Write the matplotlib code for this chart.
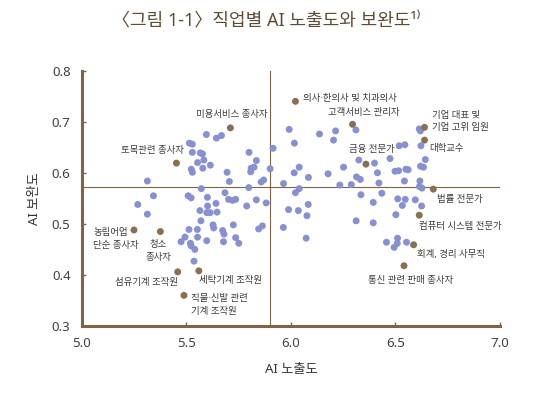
import matplotlib
matplotlib.use('Agg')
import matplotlib.pyplot as plt

plt.rcParams['font.family'] = ['Noto Sans', 'Noto Sans CJK KR', 'DejaVu Sans']

# occupations (blue dots)
exposure = [5.314, 5.268, 5.314, 5.343, 5.509, 5.523, 5.515, 5.529, 5.596, 5.644,
            5.668, 5.529, 5.567, 5.578, 5.584, 5.554, 5.615, 5.579, 5.524, 5.529,
            5.800, 5.835, 5.810, 5.824, 5.808, 5.695, 5.901, 5.858, 5.870, 5.706,
            5.572, 5.601, 5.685, 5.799, 5.702, 5.721, 5.736, 5.835, 5.882, 5.642,
            5.602, 5.789, 5.565, 5.598, 5.614, 5.647, 5.570, 5.628, 5.631, 5.725,
            5.513, 5.553, 5.674, 5.680, 5.846, 5.864, 5.494, 5.475, 5.554, 5.598,
            5.678, 5.736, 5.751, 5.520, 5.523, 5.541, 5.537,
            5.915, 5.992, 6.017, 6.137, 6.214, 6.204, 6.311, 6.614, 6.619, 6.518,
            6.545, 6.622, 6.643, 6.474, 6.325, 6.400, 6.252, 6.040, 6.016, 6.620,
            6.634, 6.414, 6.498, 6.515, 6.550, 6.561, 6.084, 6.178, 6.314, 6.332,
            6.617, 6.543, 5.965, 6.234, 6.289, 6.421, 6.615, 6.627, 6.022, 6.040,
            6.335, 6.435, 6.511, 6.547, 6.595, 6.533, 6.625, 6.394, 6.083, 5.989,
            6.036, 6.077, 6.502, 6.312, 6.394, 5.964, 6.073, 6.457, 6.510, 6.509,
            6.494, 6.553]
complement = [0.584, 0.538, 0.519, 0.555, 0.555, 0.551, 0.658, 0.656, 0.675, 0.668,
              0.673, 0.640, 0.639, 0.637, 0.625, 0.620, 0.615, 0.609, 0.607, 0.601,
              0.640, 0.624, 0.609, 0.611, 0.602, 0.601, 0.608, 0.582, 0.586, 0.583,
              0.569, 0.552, 0.561, 0.571, 0.548, 0.546, 0.548, 0.547, 0.541, 0.540,
              0.535, 0.535, 0.526, 0.522, 0.522, 0.523, 0.506, 0.498, 0.492, 0.498,
              0.489, 0.489, 0.487, 0.480, 0.490, 0.496, 0.474, 0.465, 0.474, 0.467,
              0.465, 0.473, 0.462, 0.462, 0.457, 0.450, 0.427,
              0.648, 0.685, 0.658, 0.676, 0.682, 0.664, 0.684, 0.686, 0.682, 0.653,
              0.655, 0.653, 0.626, 0.628, 0.625, 0.619, 0.611, 0.611, 0.600, 0.613,
              0.611, 0.600, 0.603, 0.604, 0.607, 0.606, 0.591, 0.598, 0.592, 0.587,
              0.584, 0.584, 0.579, 0.576, 0.577, 0.580, 0.573, 0.570, 0.561, 0.569,
              0.557, 0.560, 0.549, 0.548, 0.547, 0.536, 0.535, 0.542, 0.538, 0.528,
              0.526, 0.516, 0.518, 0.506, 0.502, 0.493, 0.472, 0.464, 0.472, 0.462,
              0.454, 0.464]

# highlighted occupations (brown dots)
hl_names = ['의사·한의사 및 치과의사', '고객서비스 관리자', '기업 대표 및\n기업 고위 임원',
            '대학교수', '금융 전문가', '법률 전문가', '컴퓨터 시스템 전문가',
            '회계, 경리 사무직', '통신 관련 판매 종사자', '미용서비스 종사자',
            '토목관련 종사자', '농림어업\n단순 종사자', '청소\n종사자', '섬유기계 조작원',
            '세탁기계 조작원', '직물·신발 관련\n기계 조작원']
hl_x = [6.022, 6.295, 6.639, 6.639, 6.359, 6.681, 6.614, 6.587, 6.541, 5.711,
        5.453, 5.250, 5.376, 5.459, 5.560, 5.489]
hl_y = [0.740, 0.695, 0.689, 0.664, 0.617, 0.568, 0.517, 0.459, 0.418, 0.688,
        0.619, 0.488, 0.485, 0.406, 0.408, 0.360]

avg_exposure = 5.90
avg_complement = 0.572

# label offsets (points) and horizontal alignment
label_pos = [((5.5, 1.7), 'left'), ((8.4, 8.4), 'center'), ((5.3, 4.3), 'left'),
             ((3.6, -6.0), 'left'), ((4.5, 10.6), 'center'), ((2.7, -7.2), 'left'),
             ((0.0, -8.2), 'left'), ((2.4, -6.7), 'left'), ((4.5, -10.6), 'center'),
             ((1.2, 9.9), 'center'), ((-17.1, 8.9), 'center'), ((-29.5, -6.6), 'left'),
             ((-1.7, -14.0), 'center'), ((0.0, -7.7), 'right'), ((0.4, -6.7), 'left'),
             ((5.0, -7.1), 'left')]

brown = '#7d6546'
blue = '#8791d1'
dot = '#8b7050'
txt = '#3a3a3a'

fig = plt.figure(figsize=(5.35, 3.96), dpi=100)
ax = fig.add_axes([0.1527, 0.1768, 0.7819, 0.6447])

ax.axvline(avg_exposure, color=brown, lw=0.8, zorder=1)
ax.axhline(avg_complement, color=brown, lw=0.8, zorder=1)

ax.scatter(exposure, complement, s=25, color=blue, edgecolors='none', zorder=3)
ax.scatter(hl_x, hl_y, s=25, color=dot, edgecolors='none', zorder=4)

for name, x, y, (off, ha) in zip(hl_names, hl_x, hl_y, label_pos):
    ax.annotate(name, (x, y), xytext=off, textcoords='offset points',
                ha=ha, va='center', fontsize=6.8, color=txt, linespacing=1.5,
                multialignment=ha)

ax.set_xlim(5.0, 7.0)
ax.set_ylim(0.3, 0.8)
ax.set_xticks([5.0, 5.5, 6.0, 6.5, 7.0])
ax.set_yticks([0.3, 0.4, 0.5, 0.6, 0.7, 0.8])
ax.set_xticklabels(['5.0', '5.5', '6.0', '6.5', '7.0'])
ax.set_yticklabels(['0.3', '0.4', '0.5', '0.6', '0.7', '0.8'])

for s in ['top', 'right']:
    ax.spines[s].set_visible(False)
for s in ['left', 'bottom']:
    ax.spines[s].set_color(brown)
    ax.spines[s].set_linewidth(2.2)
ax.tick_params(axis='x', direction='in', length=3, width=1, color=brown,
               labelsize=9.5, labelcolor='#404040', pad=8)
ax.tick_params(axis='y', direction='in', length=3, width=1, color=brown,
               labelsize=9.5, labelcolor='#404040', pad=8)

ax.set_xlabel('AI 노출도', fontsize=9.5, color='#333333', labelpad=9)
ax.set_ylabel('AI 보완도', fontsize=9.5, color='#333333', labelpad=8)

fig.text(0.497, 0.945, '〈그림 1-1〉직업별 AI 노출도와 보완도¹⁾', ha='center', va='center',
         fontsize=13, color='#5e4b30')

fig.savefig('out.png', dpi=100)
